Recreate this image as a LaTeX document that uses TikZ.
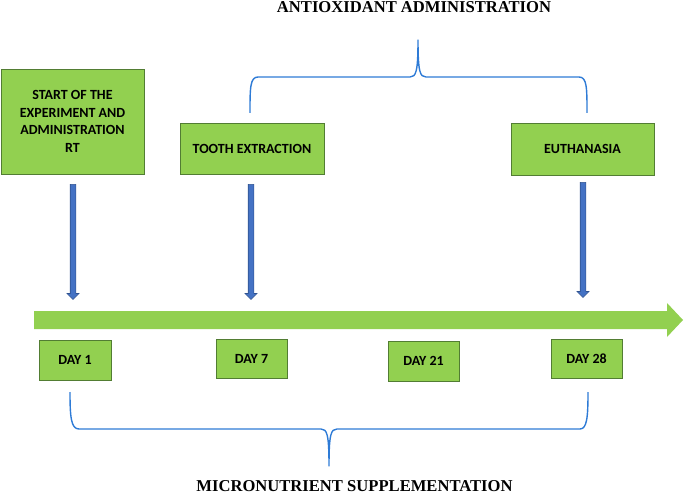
\documentclass[tikz,border=0pt]{standalone}
\usepackage{fontspec}
\setmainfont{Liberation Serif}
\newfontfamily\boxfont{Carlito}
\usetikzlibrary{calc}
\definecolor{boxgreen}{HTML}{92D050}
\definecolor{boxedge}{HTML}{527D33}
\definecolor{arrblue}{HTML}{4472C4}
\definecolor{arredge}{HTML}{2F528F}
\definecolor{bracecol}{HTML}{2E7BD6}
\begin{document}
\begin{tikzpicture}[x=1pt,y=-1pt,
  gbox/.style={draw=boxedge, fill=boxgreen, line width=0.9pt, inner sep=0pt, align=center,
    font=\boxfont\bfseries\fontsize{14}{17.7}\selectfont, text=black},
  daybox/.style={gbox, minimum width=71pt, minimum height=39pt},
  titletext/.style={font=\bfseries\fontsize{16.6}{20}\selectfont, text=black, inner sep=0pt},
  brace/.style={draw=bracecol, line width=1.4pt, line join=round},
  downarr/.pic={\filldraw[fill=arrblue, draw=arredge, line width=0.6pt]
     (-2.8,0) -- (2.8,0) -- (2.8,109) -- (6,109) -- (0,115) -- (-6,109) -- (-2.8,109) -- cycle;}
]
\useasboundingbox (0,0) rectangle (685,494);

% titles
\node[titletext, anchor=base] (antiox) at (414,13) {ANTIOXIDANT ADMINISTRATION};
\node[titletext, anchor=base] (micro) at (354.5,491) {MICRONUTRIENT SUPPLEMENTATION};

% event boxes
\node[gbox, minimum width=143pt, minimum height=105pt] (start) at (72.5,121.5)
  {START OF THE\\EXPERIMENT AND\\ADMINISTRATION\\RT};
\node[gbox, minimum width=144pt, minimum height=51pt] (tooth) at (252,148.5) {TOOTH EXTRACTION};
\node[gbox, minimum width=143pt, minimum height=52pt] (euth) at (582.5,149) {EUTHANASIA};

% timeline arrow
\coordinate (tlL) at (34,320);
\coordinate (tlR) at (683,320);
\fill[boxgreen] (34,311) -- (667,311) -- (667,303) -- (tlR) -- (667,337) -- (667,329) -- (34,329) -- cycle;

% day boxes
\node[daybox, minimum width=72pt, minimum height=40pt] (d1) at (75,360) {DAY 1};
\node[daybox] (d7) at (251.5,358.5) {DAY 7};
\node[daybox, minimum height=40pt] (d21) at (423.5,361) {DAY 21};
\node[daybox] (d28) at (586.5,358.5) {DAY 28};

% down arrows
\pic at ($(start.south)+(0.5,10)$) {downarr};
\pic at ($(tooth.south)+(-1,10)$) {downarr};
\pic at ($(euth.south)+(0.5,7)$) {downarr};

% top brace
\coordinate (tbL) at (250,113);
\coordinate (tbR) at (587,113);
\coordinate (tbT) at (418,40);
\draw[brace] (tbL) .. controls (250,88) and (250,77) .. (258,77) -- (410,77)
  .. controls (416,77) and (418,72) .. (tbT)
  .. controls (418,72) and (420,77) .. (426,77) -- (579,77)
  .. controls (587,77) and (587,88) .. (tbR);

% bottom brace
\coordinate (bbL) at (70,392);
\coordinate (bbR) at (588,392);
\coordinate (bbT) at (329,466);
\draw[brace] (bbL) .. controls (70,417) and (71,429) .. (79,429) -- (321,429)
  .. controls (327,429) and (329,434) .. (bbT)
  .. controls (329,434) and (331,429) .. (337,429) -- (580,429)
  .. controls (587,429) and (588,417) .. (bbR);
\end{tikzpicture}
\end{document}
